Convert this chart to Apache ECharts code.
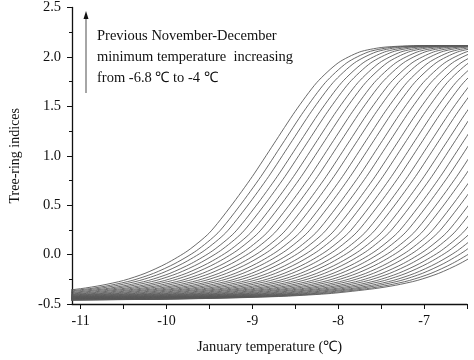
<!DOCTYPE html>
<html>
<head>
<meta charset="utf-8">
<script src="https://cdn.jsdelivr.net/npm/echarts@6/dist/echarts.min.js"></script>
<style>html,body{margin:0;padding:0;background:#fff}#c{width:474px;height:360px}</style>
</head>
<body>
<div id="c"></div>
<script>
// Profile of the left-most (warmest) curve: January temperature -> index
const profileX = [-15, -14.5, -14, -13.5, -13, -12.5, -12, -11.5, -11, -10.75, -10.5, -10.25, -10, -9.75, -9.5, -9.25, -9, -8.75, -8.5, -8.25, -8, -7.75, -7.5, -7.25, -7, -6.5, -6];
const profileY = [-0.461, -0.459, -0.456, -0.452, -0.445, -0.435, -0.42, -0.393, -0.345, -0.31, -0.262, -0.19, -0.09, 0.04, 0.22, 0.49, 0.79, 1.12, 1.45, 1.74, 1.94, 2.05, 2.095, 2.11, 2.115, 2.115, 2.115];
// Horizontal offset of every curve from the left-most one (read where curves cross index 1.0)
const curveShift = [0, 0.10, 0.19, 0.29, 0.38, 0.48, 0.57, 0.67, 0.76, 0.86, 0.95, 1.05, 1.14, 1.24, 1.33, 1.43, 1.52, 1.62, 1.71, 1.81, 1.90, 2.00, 2.09, 2.19, 2.28, 2.38, 2.47, 2.57, 2.66, 2.76, 2.85, 2.95, 3.04, 3.14, 3.23, 3.33, 3.42];
const xLabels = [-11, -10, -9, -8, -7];
const xTicks = [-11, -10.5, -10, -9.5, -9, -8.5, -8, -7.5, -7, -6.5];
const annotation = 'Previous November-December\nminimum temperature  increasing\nfrom -6.8 \u2103 to -4 \u2103';

const FONT = '"Liberation Serif", "Times New Roman", serif';
const series = curveShift.map(function (s) {
  return {
    type: 'line',
    data: profileX.map(function (x, i) { return [x + s, profileY[i]]; }),
    showSymbol: false,
    smooth: 0.25,
    clip: true,
    silent: true,
    lineStyle: { color: '#5a5a5a', width: 0.9 }
  };
});

const chart = echarts.init(document.getElementById('c'), null, { renderer: 'canvas' });
chart.setOption({
  backgroundColor: '#fff',
  animation: false,
  grid: { left: 66, right: 7, top: 7, bottom: 56, containLabel: false },
  xAxis: {
    type: 'value', min: -11.1, max: -6.5,
    name: 'January temperature (\u2103)', nameLocation: 'middle', nameGap: 36,
    nameTextStyle: { fontFamily: FONT, fontSize: 14.5, color: '#111' },
    axisLine: { onZero: false, lineStyle: { color: '#111', width: 1.3 } },
    axisTick: { show: true, length: 5, customValues: xTicks, lineStyle: { color: '#111', width: 1 } },
    axisLabel: { customValues: xLabels, margin: 10, fontFamily: FONT, fontSize: 14, color: '#111' },
    splitLine: { show: false }
  },
  yAxis: {
    type: 'value', min: -0.5, max: 2.5, interval: 0.5,
    name: 'Tree-ring indices', nameLocation: 'middle', nameGap: 50,
    nameTextStyle: { fontFamily: FONT, fontSize: 14, color: '#111' },
    axisLine: { show: true, onZero: false, lineStyle: { color: '#111', width: 1.3 } },
    axisTick: { show: true, length: 5, lineStyle: { color: '#111', width: 1 } },
    minorTick: { show: true, splitNumber: 2, length: 3, lineStyle: { color: '#111', width: 1 } },
    axisLabel: { margin: 11, fontFamily: FONT, fontSize: 14.5, color: '#111', formatter: function (v) { return v.toFixed(1); } },
    splitLine: { show: false }
  },
  graphic: [
    { type: 'line', shape: { x1: 86, y1: 93, x2: 86, y2: 18 }, style: { stroke: '#888', lineWidth: 1.5 } },
    { type: 'polygon', shape: { points: [[86, 11], [83.5, 19], [88.5, 19]] }, style: { fill: '#111' } },
    { type: 'text', left: 97, top: 26, style: { text: annotation, font: '14.5px ' + FONT, lineHeight: 21, fill: '#111' } }
  ],
  series: series
});
</script>
</body>
</html>
